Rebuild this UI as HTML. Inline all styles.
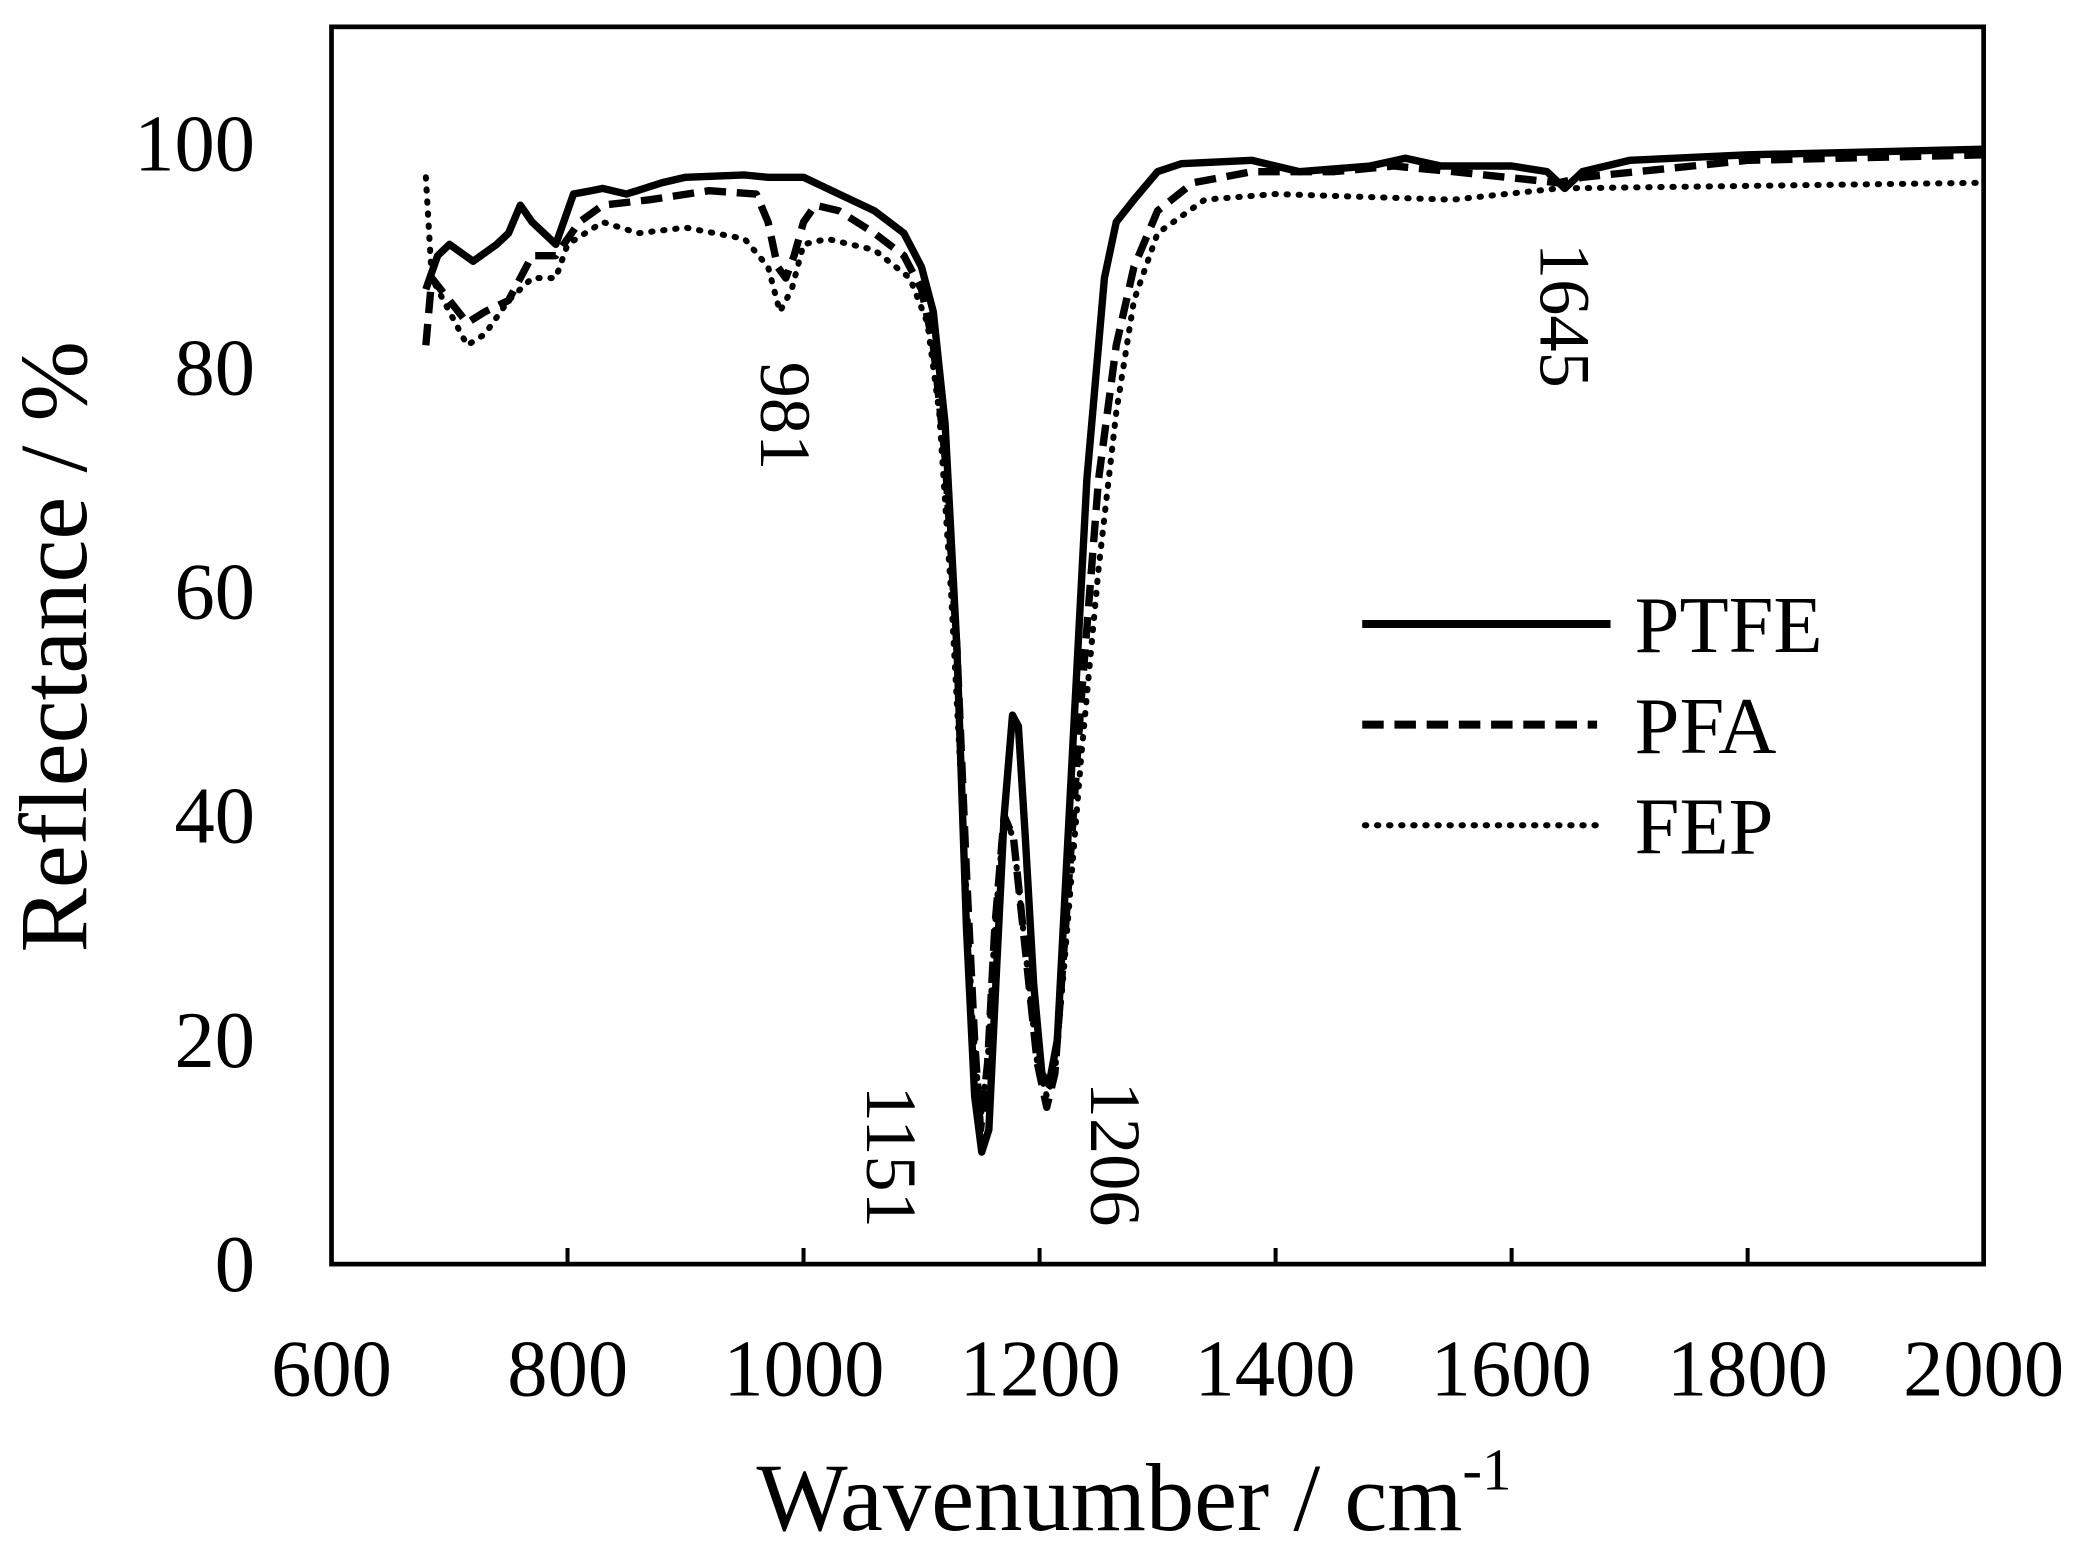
<!DOCTYPE html>
<html><head><meta charset="utf-8"><style>
html,body{margin:0;padding:0;background:#fff;}
svg{display:block;}
text{font-family:"Liberation Serif",serif;fill:#000;}
</style></head><body>
<svg id="s" width="2091" height="1558" viewBox="0 0 1558 1161" preserveAspectRatio="none" xmlns="http://www.w3.org/2000/svg">
<rect x="247" y="20" width="1231" height="922" fill="none" stroke="#000" stroke-width="3.5"/>
<g id="ticks" stroke="#000" stroke-width="3"></g>
<g font-size="60" text-anchor="end">
<text x="190" y="962">0</text><text x="190" y="795">20</text><text x="190" y="628">40</text>
<text x="190" y="461">60</text><text x="190" y="294">80</text><text x="190" y="127">100</text>
</g>
<g font-size="60" text-anchor="middle">
<text x="247" y="1040">600</text><text x="423" y="1040">800</text><text x="599" y="1040">1000</text>
<text x="775" y="1040">1200</text><text x="950" y="1040">1400</text><text x="1126" y="1040">1600</text>
<text x="1302" y="1040">1800</text><text x="1478" y="1040">2000</text>
</g>
<text x="845" y="1140" font-size="72" text-anchor="middle">Wavenumber / cm<tspan font-size="44" dy="-30">-1</tspan></text>
<text transform="translate(64,482) rotate(-90)" font-size="72" text-anchor="middle">Reflectance / %</text>
<g font-size="54" text-anchor="middle">
<text transform="translate(567,310) rotate(90)">981</text>
<text transform="translate(646,862) rotate(90)">1151</text>
<text transform="translate(813,860) rotate(90)">1206</text>
<text transform="translate(1148,235) rotate(90)">1645</text>
</g>
<g id="series" fill="none" stroke="#000" stroke-linejoin="round"></g>
<g stroke="#000" fill="none">
<line x1="1015" y1="465" x2="1200" y2="465" stroke-width="6"/>
<line x1="1015" y1="540" x2="1190" y2="540" stroke-width="6" stroke-dasharray="16,8"/>
<line x1="1017" y1="615" x2="1190" y2="615" stroke-width="4.5" stroke-dasharray="1,8" stroke-linecap="round"/>
</g>
<g font-size="60"><text x="1218" y="486">PTFE</text><text x="1218" y="561">PFA</text><text x="1218" y="636">FEP</text></g>
</svg>
<script>
var X=function(w){return 247+(w-600)*0.8793;},Y=function(v){return 942-v*8.35;};
var t=document.getElementById('ticks'),h='';
for(var w=800;w<2000;w+=200)h+='<line x1="'+X(w)+'" y1="942" x2="'+X(w)+'" y2="930"/>';
t.innerHTML=h;
var P=[[680,87,690,90,700,91,720,89.5,740,91,750,92,760,94.5,770,93,790,91,805,95.5,820,95.8,830,96,850,95.5,880,96.5,900,97,950,97.2,970,97,1000,97,1030,95.5,1060,94,1085,92,1100,89,1110,85,1120,75,1130,55,1138,30,1145,15,1151,10,1157,12,1163,25,1170,40,1177,49,1182,48,1188,38,1195,25,1202,17,1208,16,1215,20,1225,40,1240,70,1255,88,1265,93,1280,95,1300,97.5,1320,98.2,1380,98.5,1420,97.5,1480,98,1510,98.7,1540,98,1600,98,1630,97.5,1645,96,1660,97.5,1700,98.5,1800,99,2000,99.5],
[680,82,685,88,700,86,715,84,730,85,750,86,770,90,790,90,810,93,830,94.5,870,95,920,95.8,960,95.5,970,93,978,89,985,88,992,90,1000,93,1010,94.5,1030,94,1060,92,1085,90,1100,87,1110,82,1120,72,1130,55,1138,35,1145,20,1150,12,1156,18,1162,30,1170,40,1178,38,1188,28,1198,18,1206,14,1213,17,1222,30,1235,50,1250,70,1265,82,1280,89,1300,94,1330,96.5,1380,97.5,1450,97.5,1500,98,1550,97.5,1640,96.5,1660,97,1800,98.5,2000,99],
[680,97,685,88,700,85,715,82,730,83,750,86,770,88,790,88,800,91,830,93,860,92,900,92.5,950,91.5,970,89,980,85,990,87,1000,91,1020,91.5,1060,90.5,1090,88,1105,84,1115,76,1125,60,1135,40,1143,22,1150,13,1156,18,1162,30,1170,40,1178,38,1188,28,1198,18,1206,15,1213,17,1222,28,1235,45,1250,62,1265,76,1280,86,1300,92,1340,95,1400,95.5,1550,95,1640,96,2000,96.5]];
var st=['stroke-width="5.5"','stroke-width="5.5" stroke-dasharray="16,8"','stroke-width="4.5" stroke-dasharray="1,8" stroke-linecap="round"'];
var g='';
for(var i=2;i>=0;i--){var d='',a=P[i];for(var j=0;j<a.length;j+=2)d+=(j?'L':'M')+X(a[j]).toFixed(1)+','+Y(a[j+1]).toFixed(1);g+='<path d="'+d+'" '+st[i]+'/>';}
document.getElementById('series').innerHTML=g;
</script>
</body></html>
